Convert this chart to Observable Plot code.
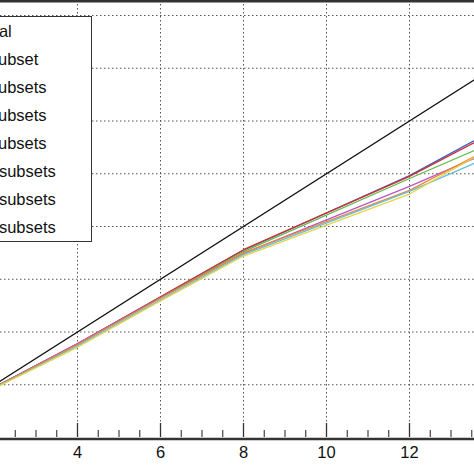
<!DOCTYPE html>
<html>
<head>
<meta charset="utf-8">
<script src="https://cdn.jsdelivr.net/npm/d3@7"></script>
<script src="https://cdn.jsdelivr.net/npm/@observablehq/plot@0.6"></script>
<style>
  html, body { margin: 0; padding: 0; background: white; }
  #wrap { position: relative; width: 474px; height: 474px; overflow: hidden; background: white;
          font-family: "Liberation Sans", Arial, sans-serif; }
  #legend { position: absolute; left: -70px; top: 16px; width: 162px; box-sizing: border-box;
            border: 1px solid #333; background: white; padding: 0; }
  #legend .row { position: relative; height: 28px; }
  #legend .row svg { position: absolute; left: 4px; top: 13px; }
  #legend .row span { position: absolute; left: 45px; top: 0; line-height: 29px; font-size: 16.5px; color: #111; white-space: nowrap; }
</style>
</head>
<body>
<div id="wrap"></div>
<script>
// ---- data ----
const xs = [2, 4, 6, 8, 12, 16];
const blueY   = [1.90, 3.55, 5.32, 7.10, 9.93, 13.34];
const redY    = [1.90, 3.55, 5.33, 7.12, 9.90, 13.18];
const greenY  = [1.90, 3.53, 5.30, 7.05, 9.82, 12.54];
const purpleY = [1.90, 3.56, 5.30, 6.98, 9.52, 12.24];
const orangeY = [1.89, 3.52, 5.28, 7.00, 9.37, 12.65];
const cyanY   = [1.88, 3.47, 5.22, 6.93, 9.33, 12.05];
const yellowY = [1.87, 3.42, 5.18, 6.88, 9.23, 12.79];
const idealX = [1, 16];
const idealY = [1, 16];
const seriesNames = ["1 subset", "2 subsets", "4 subsets", "8 subsets", "16 subsets", "32 subsets", "64 subsets"];
const seriesValues = [blueY, redY, greenY, purpleY, orangeY, cyanY, yellowY];
const seriesColors = ["#3a5fcd", "#d03030", "#5cb84a", "#b458c4", "#ee8a30", "#5ec0e0", "#e8d24a"];
const legendLabels = ["Ideal", ...seriesNames];
const legendColors = ["#111111", ...seriesColors];
const majorTicks = [2, 4, 6, 8, 10, 12, 14];
const tickLabels = [4, 6, 8, 10, 12];
const gridYTicks = [2, 4, 6, 8, 10, 12, 14, 16];

// ---- table ----
const rows = [];
seriesNames.forEach((name, i) => {
  xs.forEach((x, j) => rows.push({series: name, x, y: seriesValues[i][j]}));
});
const ideal = idealX.map((x, i) => ({x, y: idealY[i]}));
const minorTicks = d3.range(2, 14.01, 0.5).filter(t => !majorTicks.includes(t));

const W = 474, H = 474, MB = 37;
const xLo = 4 - 77 / 41.5, xHi = 4 + (W - 77) / 41.5;
const yHi = 16 + 15 / ((H - MB - 15) / 16);

const chart = Plot.plot({
  width: W, height: H,
  marginLeft: 0, marginRight: 0, marginTop: 0, marginBottom: MB,
  style: {fontFamily: "'Liberation Sans', Arial, sans-serif", fontSize: "16.5px", background: "white", color: "#111"},
  x: {domain: [xLo, xHi]},
  y: {domain: [0, yHi], axis: null},
  color: {domain: seriesNames, range: seriesColors},
  marks: [
    Plot.gridX(majorTicks, {stroke: "#444", strokeOpacity: 0.9, strokeDasharray: "1.5,2.5"}),
    Plot.gridY(gridYTicks, {stroke: "#444", strokeOpacity: 0.9, strokeDasharray: "1.5,2.5"}),
    Plot.line(ideal, {x: "x", y: "y", stroke: "#111", strokeWidth: 1.3, clip: true}),
    Plot.line(rows, {x: "x", y: "y", z: "series", stroke: "series", strokeWidth: 1.3, clip: true}),
    Plot.ruleX(majorTicks, {stroke: "#333", strokeWidth: 1.3, insetTop: H - MB - 14}),
    Plot.ruleX(minorTicks, {stroke: "#333", strokeWidth: 1.1, insetTop: H - MB - 7}),
    Plot.ruleY([0], {stroke: "#333", strokeWidth: 2.5, dy: 1.5}),
    Plot.frame({anchor: "top", stroke: "#333", strokeWidth: 4}),
    Plot.axisX(tickLabels, {tickSize: 0, tickPadding: 9, label: null, fontSize: 16.5})
  ]
});

const wrap = document.getElementById("wrap");
wrap.appendChild(chart);

// ---- legend (left part falls outside the cropped view, as in the reference) ----
const legend = document.createElement("div");
legend.id = "legend";
legendLabels.forEach((lab, i) => {
  const row = document.createElement("div");
  row.className = "row";
  row.innerHTML = `<svg width="34" height="3"><line x1="0" y1="1.5" x2="34" y2="1.5" stroke="${legendColors[i]}" stroke-width="1.2"/></svg><span>${lab}</span>`;
  legend.appendChild(row);
});
wrap.appendChild(legend);
</script>
</body>
</html>
